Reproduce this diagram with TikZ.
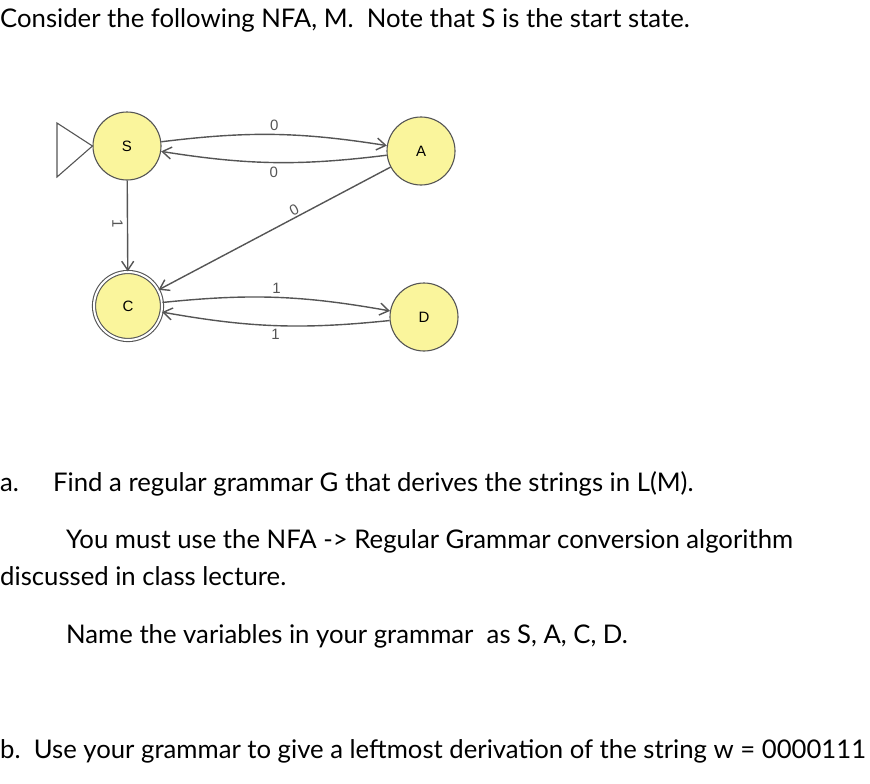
\documentclass[tikz,border=0pt]{standalone}
\usepackage{fontspec}
\setmainfont{Lato}
\newfontfamily\lblfont{Liberation Sans}
\usetikzlibrary{arrows.meta}
\definecolor{st}{HTML}{FAF59C}
\definecolor{ln}{HTML}{555555}
\begin{document}
\begin{tikzpicture}[x=1pt,y=-1pt,
  state/.style={circle,draw=ln,fill=st,minimum size=68pt,inner sep=0pt,font=\fontsize{15}{17}\lblfont,line width=1.1pt},
  edge/.style={draw=ln,line width=1.4pt,-{Straight Barb[length=9pt,width=12pt]}},
  lab/.style={font=\fontsize{15}{17}\lblfont,text=ln},
  txt/.style={anchor=base west,inner sep=0pt,font=\fontsize{25.7}{30}\selectfont}]
\useasboundingbox (0,0) rectangle (870,784);
\node[state] (S) at (127,146) {S};
\node[state] (A) at (421,151) {A};
\node[state,double,double distance=2pt] (C) at (128,306) {C};
\node[state] (D) at (424,317) {D};
\coordinate (t1) at (57,123); \coordinate (t2) at (57,177);
\draw[ln,line width=1.1pt] (t1) -- (S.west) -- (t2) -- cycle;
\draw[edge] (S) to[bend left=8] node[lab,above] {0} (A);
\draw[edge] (A) to[bend left=8] node[lab,below] {0} (S);
\draw[edge] (S) -- node[lab,rotate=-90,xshift=-2pt,yshift=-10pt] {1} (C);
\draw[edge] (A) -- node[lab,pos=0.4,above,sloped,yshift=-2pt] {0} (C);
\draw[edge] (C) to[bend left=8] node[lab,above] {1} (D);
\draw[edge] (D) to[bend left=8] node[lab,below] {1} (C);
\node[txt] (l0) at (0,28) {Consider the following NFA, M.\ \ Note that S is the start state.};
\node[txt] (l1) at (0,491) {a.};
\node[txt] (l1b) at (53,491) {Find a regular grammar G that derives the strings in L(M).};
\node[txt] (l2) at (66,548) {You must use the NFA -> Regular Grammar conversion algorithm};
\node[txt] (l3) at (0,585) {discussed in class lecture.};
\node[txt] (l4) at (66,643) {Name the variables in your grammar\ \ as S, A, C, D.};
\node[txt] (l5) at (0,758) {b.\ \ Use your grammar to give a leftmost derivation of the string w = 0000111};
\end{tikzpicture}
\end{document}
